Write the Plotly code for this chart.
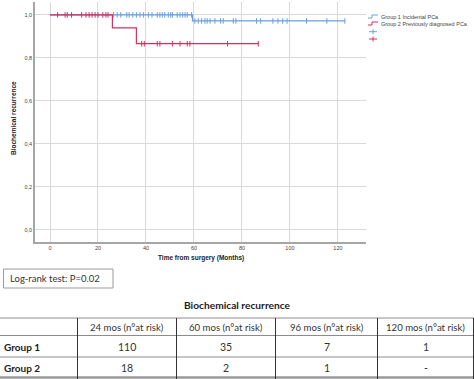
import plotly.graph_objects as go

W, H = 474, 379

# ---------------- data ----------------
g1_name = "Group 1 Incidental PCa"
g1_event_times = [59.4]
g1_event_surv = [0.972]
g1_end = 123.0
g1_censor = [26.5, 28, 29.5, 32, 33, 34.5, 36, 37.5, 39, 41, 42.5, 44.7, 45.8, 46.8,
             47.8, 49.3, 50.3, 51, 53, 54.2, 55.3, 56.3, 57.2, 59,
             60.4, 61.8, 63.2, 64.6, 65.5, 66.7, 68.75, 71.1, 72.2, 76.4, 77.5, 86.1,
             87.8, 92.9, 95, 97, 98.8, 106.9, 115.4, 122.9]

g2_name = "Group 2 Previously diagnosed PCa"
g2_event_times = [26.0, 36.0]
g2_event_surv = [0.94, 0.866]
g2_end = 87.0
g2_censor = [3.2, 6.3, 7.2, 9, 13.2, 15, 16.3, 17.5, 18.8, 20, 22, 23.3, 24.2,
             38.2, 39.3, 44.7, 45.8, 51, 54.2, 57.2, 58.3, 74, 86.8]

x_ticks = [0, 20, 40, 60, 80, 100, 120]
y_ticks = [0.0, 0.2, 0.4, 0.6, 0.8, 1.0]
y_tick_labels = ["0,0", "0,2", "0,4", "0,6", "0,8", "1,0"]

logrank_text = "Log-rank test: P=0.02"
table_title = "Biochemical recurrence"
table_header = ["", "24 mos (n°at risk)", "60 mos (n°at risk)", "96 mos (n°at risk)", "120 mos (n°at risk)"]
table_groups = ["Group 1", "Group 2"]
table_group1 = ["110", "35", "7", "1"]
table_group2 = ["18", "2", "1", "-"]

BLUE = "#6a9fe0"
RED = "#d4305c"


def px(x):
    return x / W


def py(y):
    return 1 - y / H


def step_curve(times, surv, end):
    xs, ys = [0.0], [1.0]
    for t, s in zip(times, surv):
        xs.append(t)
        ys.append(s)
    xs.append(end)
    ys.append(ys[-1])
    return xs, ys


def surv_at(t, times, surv):
    s = 1.0
    for et, es in zip(times, surv):
        if t >= et:
            s = es
    return s


fig = go.Figure()
for name, times, surv, end, cens, col in [
    (g1_name, g1_event_times, g1_event_surv, g1_end, g1_censor, BLUE),
    (g2_name, g2_event_times, g2_event_surv, g2_end, g2_censor, RED),
]:
    xs, ys = step_curve(times, surv, end)
    fig.add_trace(go.Scatter(x=xs, y=ys, mode="lines", line=dict(color=col, width=1.2, shape="hv"),
                             name=name, showlegend=False, hoverinfo="skip"))
    fig.add_trace(go.Scatter(x=cens, y=[surv_at(t, times, surv) for t in cens], mode="markers",
                             marker=dict(symbol="line-ns-open", size=4, color=col, line=dict(color=col, width=1)),
                             showlegend=False, hoverinfo="skip"))

axis_common = dict(showgrid=True, gridcolor="#d9d9d9", gridwidth=1, zeroline=False, automargin=False,
                   showline=True, linecolor="#a6a6a6", linewidth=1.5, ticks="",
                   tickfont=dict(family="Liberation Sans", size=5.5, color="#444"))

fig.update_layout(
    width=W, height=H, margin=dict(l=0, r=0, t=0, b=0, pad=0),
    paper_bgcolor="white", plot_bgcolor="white", showlegend=False,
    xaxis=dict(domain=[px(35), px(366)], range=[-6.25, 131.7], tickvals=x_ticks, **axis_common),
    yaxis=dict(domain=[py(242), py(2)], range=[-0.056, 1.06], tickvals=y_ticks,
               ticktext=y_tick_labels, **axis_common),
)

shapes = []
annotations = []


def ann(x, y, text, size, family="Liberation Sans", color="#333", xanchor="center", angle=0):
    annotations.append(dict(x=px(x), y=py(y), xref="paper", yref="paper", text=text, xanchor=xanchor,
                            yanchor="middle", showarrow=False, textangle=angle,
                            font=dict(family=family, size=size, color=color)))


# axis titles
ann(200.5, 258, "<b>Time from surgery (Months)</b>", 6.5, color="#222")
ann(14, 118, "<b>Biochemical recurrence</b>", 6.5, color="#222", angle=-90)

# legend (manual)
legend_rows = [(g1_name, BLUE, 16.5), (g2_name, RED, 23.5)]
for name, col, yc in legend_rows:
    shapes.append(dict(type="path", xref="paper", yref="paper",
                       path=f"M {px(368)},{py(yc+1.5)} L {px(372)},{py(yc+1.5)} L {px(372)},{py(yc-1.5)} L {px(378)},{py(yc-1.5)}",
                       line=dict(color=col, width=1)))
    ann(379, yc, name, 5.5, color="#444", xanchor="left")
for col, yc in [(BLUE, 31.7), (RED, 39.0)]:
    shapes.append(dict(type="line", xref="paper", yref="paper", x0=px(369), x1=px(377), y0=py(yc), y1=py(yc),
                       line=dict(color=col, width=1)))
    shapes.append(dict(type="line", xref="paper", yref="paper", x0=px(373), x1=px(373), y0=py(yc - 2.5), y1=py(yc + 2.5),
                       line=dict(color=col, width=1)))

# log-rank box
shapes.append(dict(type="rect", xref="paper", yref="paper", x0=px(3.5), x1=px(113), y0=py(288), y1=py(269),
                   line=dict(color="#9a9a9a", width=1), fillcolor="white"))
ann(7.5, 278.5, logrank_text, 9.5, family="Lato", color="#333", xanchor="left")

# table
TF = "Lato"
ann(237, 305, f"<b>{table_title}</b>", 10.2, family=TF, color="#222")
col_edges = [0, 77.5, 176.5, 275.5, 377.5, 473.5]
row_lines = [318, 335.5, 357]
row_centers = [327, 346.5, 367.5]
for yl in row_lines:
    shapes.append(dict(type="line", xref="paper", yref="paper", x0=0, x1=1, y0=py(yl), y1=py(yl),
                       line=dict(color="#8c8c8c", width=1)))
shapes.append(dict(type="line", xref="paper", yref="paper", x0=0, x1=1, y0=py(377.5), y1=py(377.5),
                   line=dict(color="#999999", width=2.5)))
for xe in col_edges[1:]:
    shapes.append(dict(type="line", xref="paper", yref="paper", x0=px(xe), x1=px(xe), y0=py(318), y1=py(379),
                       line=dict(color="#333333", width=1)))

for j, h in enumerate(table_header[1:]):
    xc = (col_edges[j + 1] + col_edges[j + 2]) / 2
    ann(xc, row_centers[0], h, 9.6, family=TF, color="#333")
for i, (g, vals) in enumerate(zip(table_groups, [table_group1, table_group2])):
    yc = row_centers[i + 1]
    ann(1.5, yc, f"<b>{g}</b>", 10, family=TF, color="#222", xanchor="left")
    for j, v in enumerate(vals):
        xc = (col_edges[j + 1] + col_edges[j + 2]) / 2
        ann(xc, yc, v, 10.5, family=TF, color="#333")

fig.update_layout(shapes=shapes, annotations=annotations)
fig.write_html("out.html", config={"displayModeBar": False},
               post_script="document.body.style.margin='0';document.body.style.padding='0';")
